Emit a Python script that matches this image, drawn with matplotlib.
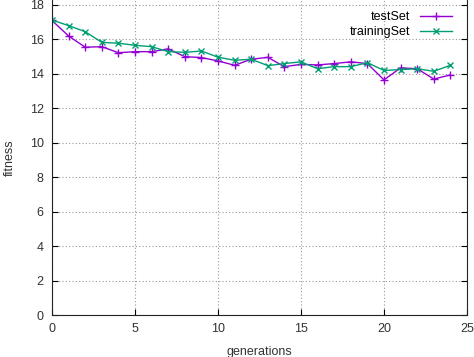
import matplotlib
matplotlib.use("Agg")
import matplotlib.pyplot as plt

generations = list(range(25))

test_set = [17.1, 16.2, 15.55, 15.58, 15.23, 15.29, 15.29, 15.45, 15.0, 14.95,
            14.75, 14.5, 14.85, 14.96, 14.42, 14.55, 14.52, 14.6, 14.7, 14.6,
            13.65, 14.35, 14.3, 13.7, 13.94]
training_set = [17.13, 16.8, 16.45, 15.83, 15.78, 15.66, 15.58, 15.29, 15.25, 15.33,
                14.97, 14.79, 14.85, 14.48, 14.6, 14.7, 14.3, 14.42, 14.42, 14.65,
                14.2, 14.25, 14.3, 14.15, 14.5]

x_ticks = [0, 5, 10, 15, 20, 25]
y_ticks = [0, 2, 4, 6, 8, 10, 12, 14, 16, 18]

plt.rcParams['font.family'] = ['Liberation Sans', 'DejaVu Sans']

fig = plt.figure(figsize=(4.74, 3.57), dpi=100)
ax = fig.add_axes([0.1097, 0.1176, 0.8755, 0.8824])

ax.plot(generations, test_set, color='#9400d3', marker='+', markersize=6,
        linewidth=1, label='testSet')
ax.plot(generations, training_set, color='#009e73', marker='x', markersize=5,
        linewidth=1, label='trainingSet')

ax.set_xlim(0, 25)
ax.set_ylim(0, 18.29)
ax.set_xticks(x_ticks)
ax.set_yticks(y_ticks)
ax.tick_params(direction='in', length=4, labelsize=9, labelcolor='#333333',
               right=True, pad=6)
ax.grid(True, color='#999999', linestyle=(0, (1, 2)), linewidth=0.8)
ax.spines['top'].set_visible(False)
for side in ['left', 'bottom', 'right']:
    ax.spines[side].set_color('#222222')

ax.set_xlabel('generations', fontsize=9, color='#333333', labelpad=8)
ax.set_ylabel('fitness', fontsize=9, color='#333333', labelpad=10)

ax.legend(loc='upper right', frameon=False, markerfirst=False, fontsize=9,
          handlelength=2.6, handletextpad=0.8, borderpad=0, borderaxespad=0,
          labelspacing=0.25, bbox_to_anchor=(0.965, 0.965))

fig.savefig('out.png', dpi=100)
